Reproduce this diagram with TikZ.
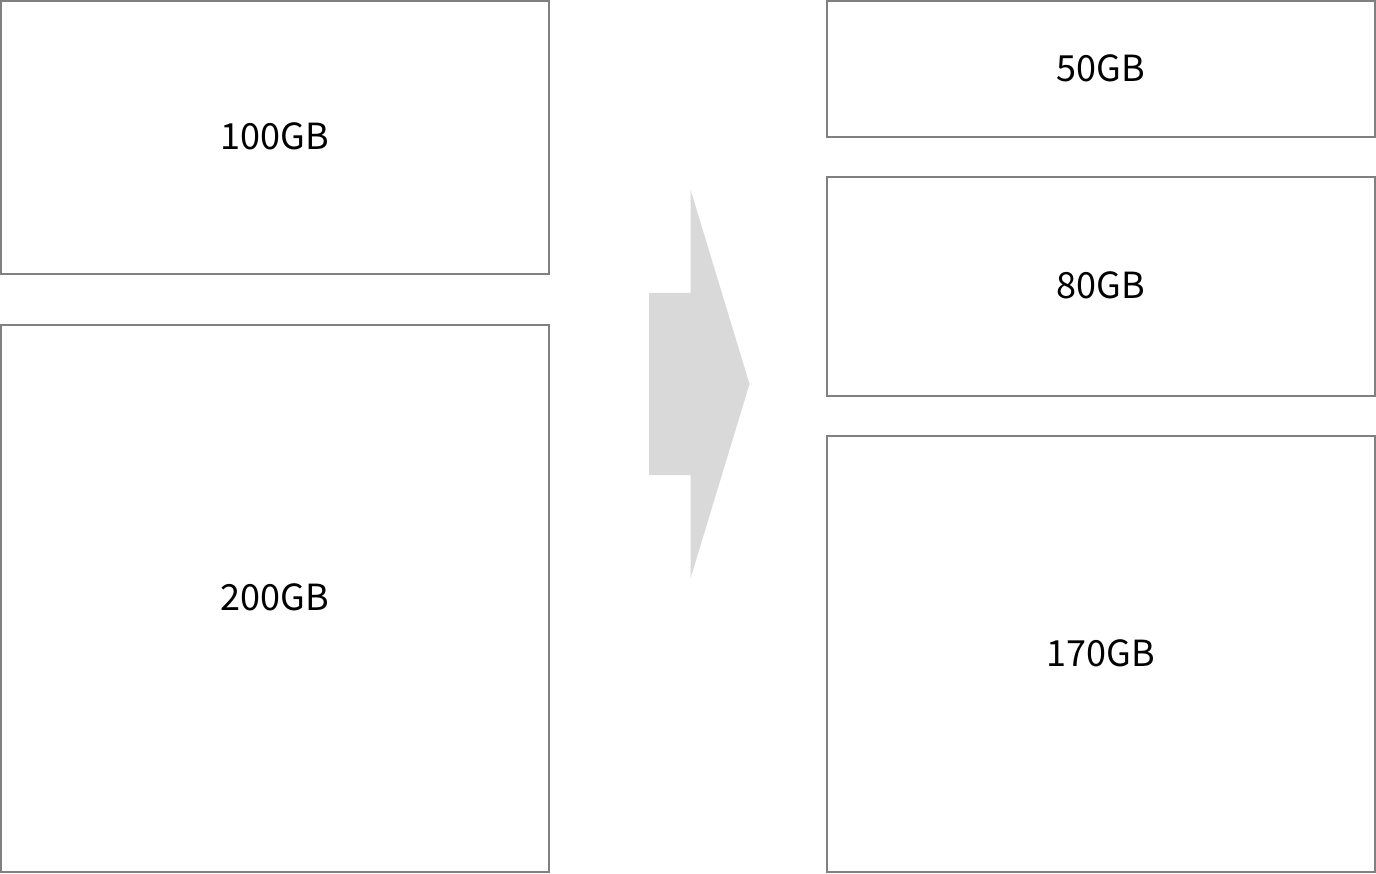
\documentclass[tikz,border=0pt]{standalone}
\usepackage{fontspec}
\setmainfont{Noto Sans CJK JP}
\begin{document}
\begin{tikzpicture}[x=1pt,y=-1pt,
  box/.style={draw=boxgray,line width=2pt,fill=white},
  lbl/.style={font=\fontsize{36}{42}\selectfont,text=black,anchor=center}]
\definecolor{boxgray}{HTML}{808080}
\definecolor{arrowgray}{HTML}{D9D9D9}
\useasboundingbox (0,0) rectangle (1376,874);
\draw[box] (1,1) rectangle (549,274);
\draw[box] (1,325) rectangle (549,872);
\draw[box] (827,1) rectangle (1375,137);
\draw[box] (827,177) rectangle (1375,396);
\draw[box] (827,436) rectangle (1375,872);
\node[lbl] (a) at (275,136.5) {100GB};
\node[lbl] (b) at (275,597) {200GB};
\node[lbl] (c) at (1101,68) {50GB};
\node[lbl] (d) at (1101,285.5) {80GB};
\node[lbl] (e) at (1101,653) {170GB};
\fill[arrowgray] (649,293) -- (690.5,293) -- (690.5,189.5) -- (749.5,384) -- (690.5,578.5) -- (690.5,475) -- (649,475) -- cycle;
\end{tikzpicture}
\end{document}
